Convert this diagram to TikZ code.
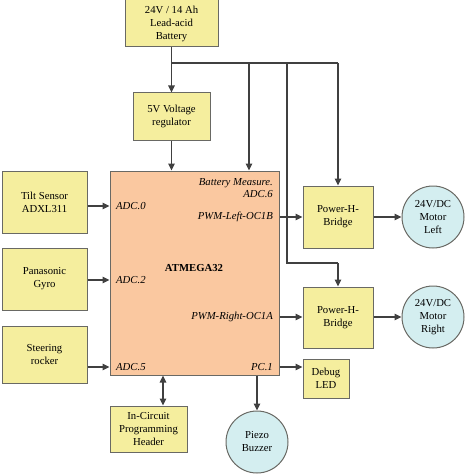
\documentclass[tikz,border=0pt]{standalone}
\usepackage{fontspec}
\setmainfont{Liberation Serif}
\usetikzlibrary{arrows.meta}

\definecolor{boxyellow}{RGB}{245,238,158}
\definecolor{mcupeach}{RGB}{250,200,160}
\definecolor{motorcyan}{RGB}{212,238,240}
\definecolor{edgegray}{RGB}{105,105,100}

\begin{document}
\begin{tikzpicture}[x=1pt,y=-1pt,
    font=\fontsize{10.7}{13}\selectfont,
    blk/.style={draw=edgegray,line width=1pt,fill=boxyellow,align=center,inner sep=1pt},
    mcu/.style={draw=edgegray,line width=1pt,fill=mcupeach},
    motor/.style={circle,draw=edgegray,line width=1pt,fill=motorcyan,align=center,minimum size=62pt,inner sep=0pt},
    pin/.style={font=\fontsize{10.7}{12.5}\selectfont\itshape,inner sep=0pt,align=right},
    wire/.style={draw=black!75,line width=1.1pt},
    sig/.style={wire,-{Triangle[length=7pt,width=6.5pt]}}]
    \useasboundingbox (0,0) rectangle (474,476);
    % supply
    \node[blk,minimum width=93pt,minimum height=47pt] (batt) at (171.5,23.5) {24V / 14 Ah\\Lead-acid\\Battery};
    \node[blk,minimum width=77pt,minimum height=47pt] (reg) at (171.5,116.5) {5V Voltage\\regulator};
    % inputs
    \node[blk,minimum width=85pt,minimum height=62pt] (tilt) at (44.5,202) {Tilt Sensor\\ADXL311};
    \node[blk,minimum width=85pt,minimum height=62pt] (gyro) at (44.5,279) {Panasonic\\Gyro};
    \node[blk,minimum width=85pt,minimum height=57pt] (steer) at (44.5,354.5) {Steering\\rocker};
    % controller
    \node[mcu,minimum width=169pt,minimum height=204pt] (atmega) at (194.5,273) {};
    \node[font=\fontsize{10.7}{13}\selectfont\bfseries] at (194,268) {ATMEGA32};
    \node[pin,anchor=west] (adc0) at (116,206) {ADC.0};
    \node[pin,anchor=west] (adc2) at (116,280) {ADC.2};
    \node[pin,anchor=west] (adc5) at (116,367) {ADC.5};
    \node[pin,anchor=east] (adc6) at (273,188) {Battery Measure.\\ADC.6};
    \node[pin,anchor=east] (pwml) at (273,217) {PWM-Left-OC1B};
    \node[pin,anchor=east] (pwmr) at (273,317) {PWM-Right-OC1A};
    \node[pin,anchor=east] (pc1) at (273,367) {PC.1};
    % outputs
    \node[blk,minimum width=70pt,minimum height=62pt] (hleft) at (338,217) {Power-H-\\Bridge};
    \node[blk,minimum width=70pt,minimum height=61pt] (hright) at (338,317.5) {Power-H-\\Bridge};
    \node[motor] (mleft) at (433,217) {24V/DC\\Motor\\Left};
    \node[motor] (mright) at (433,317) {24V/DC\\Motor\\Right};
    \node[blk,minimum width=46pt,minimum height=39pt] (led) at (326,378.5) {Debug\\LED};
    \node[motor] (piezo) at (257,442) {Piezo\\Buzzer};
    \node[blk,minimum width=77pt,minimum height=46pt] (isp) at (148.5,429) {In-Circuit\\Programming\\Header};
    % power rail
    \coordinate (rail) at (172,63);
    \coordinate (tap6) at (249,63);
    \coordinate (tapr) at (287,63);
    \coordinate (bend) at (287,263);
    \draw[sig] (batt.south) -- (reg.north);
    \draw[wire] (rail) -- (rail -| hleft.north);
    \draw[sig] (rail -| hleft.north) -- (hleft.north);
    \draw[sig] (tap6) -- (tap6 |- atmega.north);
    \draw[wire] (tapr) -- (bend) -- (bend -| hright.north);
    \draw[sig] (bend -| hright.north) -- (hright.north);
    \draw[sig] (reg.south) -- (reg.south |- atmega.north);
    % signals
    \draw[sig] (tilt.east |- adc0) -- (atmega.west |- adc0);
    \draw[sig] (gyro.east |- adc2) -- (atmega.west |- adc2);
    \draw[sig] (steer.east |- adc5) -- (atmega.west |- adc5);
    \draw[sig] (atmega.east |- pwml) -- (hleft.west |- pwml);
    \draw[sig] (atmega.east |- pwmr) -- (hright.west |- pwmr);
    \draw[sig] (hleft.east) -- (mleft.west);
    \draw[sig] (hright.east |- mright.west) -- (mright.west);
    \draw[sig] (atmega.east |- pc1) -- (led.west |- pc1);
    \draw[sig] (piezo.north |- atmega.south) -- (piezo.north);
    \draw[sig,{Triangle[length=7pt,width=6.5pt]}-{Triangle[length=7pt,width=6.5pt]}] ([xshift=14.5pt]isp.north) -- ([xshift=14.5pt]isp.north |- atmega.south);
\end{tikzpicture}
\end{document}
